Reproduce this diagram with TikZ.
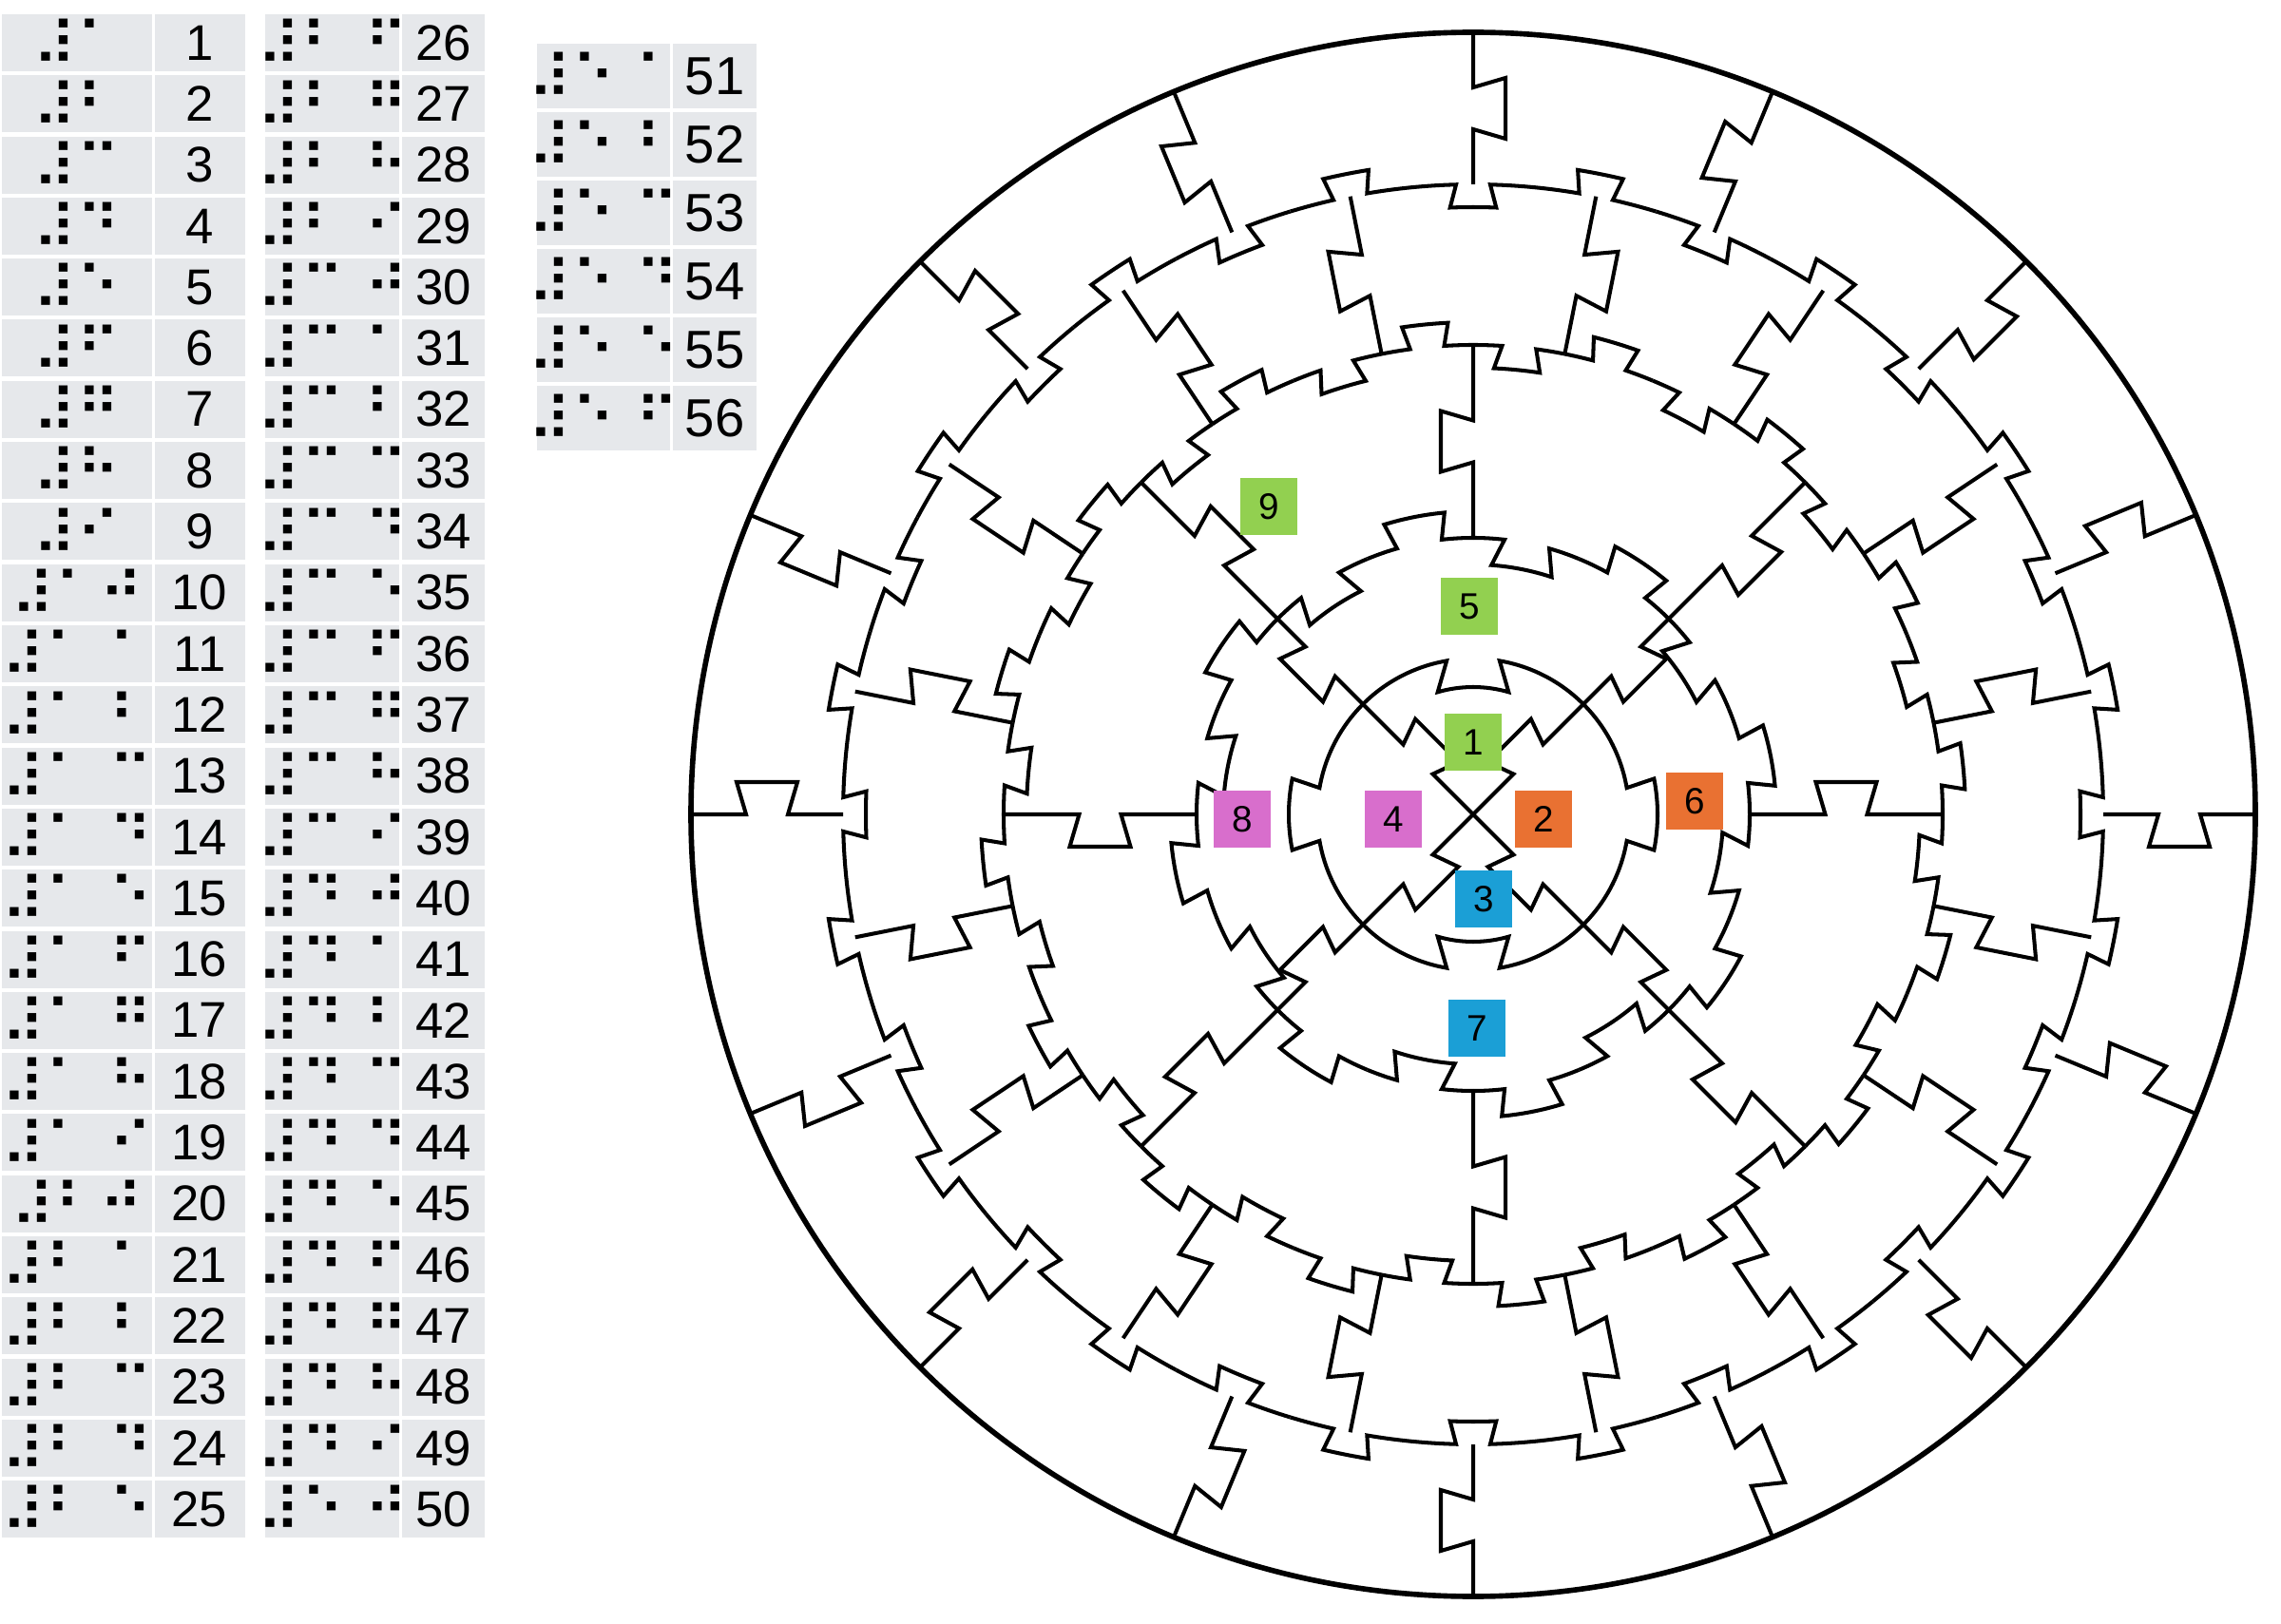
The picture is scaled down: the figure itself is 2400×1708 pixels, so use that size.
\documentclass[tikz,border=0pt]{standalone}
\usepackage{fontspec}
\setmainfont{Liberation Sans}
\newfontfamily\brl{DejaVu Sans}
\definecolor{cellg}{HTML}{E6E8EB}
\definecolor{lgreen}{HTML}{92D050}
\definecolor{lorange}{HTML}{E97132}
\definecolor{lblue}{HTML}{1B9FD6}
\definecolor{lmag}{HTML}{D86ECC}
\newcommand\ringarc[5]{%
 \foreach \i in {1,...,#2}{
  \pgfmathsetmacro\ta{#3+(\i-1)*360/#2}
  \pgfmathsetmacro\tb{#3+\i*360/#2}
  \pgfmathsetmacro\tm{(\ta+\tb)/2}
  \pgfmathsetmacro\dd{#5*ifthenelse(mod(\i,2)==1,1,-1)}
  \pgfmathsetmacro\rr{#1+\dd}
  \pgfmathsetmacro\tal{\tm-#4/#1*57.2958}
  \pgfmathsetmacro\tar{\tm+#4/#1*57.2958}
  \pgfmathsetmacro\tbl{\tm-1.35*#4/\rr*57.2958}
  \pgfmathsetmacro\tbr{\tm+1.35*#4/\rr*57.2958}
  \draw[puz,shift={(C)}] (\ta:#1) arc[start angle=\ta,end angle=\tal,radius=#1] -- (\tbl:\rr) arc[start angle=\tbl,end angle=\tbr,radius=\rr] -- (\tar:#1) arc[start angle=\tar,end angle=\tb,radius=#1];
 }}
\newcommand\radial[4]{%
  \pgfmathsetmacro\mm{(#2+#3)/2}
  \pgfmathsetmacro\pa{\mm-22}\pgfmathsetmacro\pb{\mm+22}
  \pgfmathsetmacro\qa{\mm-32}\pgfmathsetmacro\qb{\mm+32}
  \draw[puz,shift={(C)},rotate=#1] (#2,0) -- (\pa,0) -- (\qa,#4) -- (\qb,#4) -- (\pb,0) -- (#3,0);}
\begin{document}
\begin{tikzpicture}[x=0.01cm,y=0.01cm,
  puz/.style={line width=1.15pt,line join=miter},
  lab/.style={minimum size=0.6cm,inner sep=0,font=\fontsize{11}{11}\selectfont},
  num/.style={font=\fontsize{15}{15}\selectfont},
  bra/.style={font=\brl\fontsize{18}{18}\selectfont}]
\useasboundingbox (0,0) rectangle (2400,1708);
\coordinate (C) at (1550,851);
% tables
\foreach \n/\b [count=\k from 0] in {1/⠼⠁,2/⠼⠃,3/⠼⠉,4/⠼⠙,5/⠼⠑,6/⠼⠋,7/⠼⠛,8/⠼⠓,9/⠼⠊,10/⠼⠁⠚,11/⠼⠁ ⠁,12/⠼⠁ ⠃,13/⠼⠁ ⠉,14/⠼⠁ ⠙,15/⠼⠁ ⠑,16/⠼⠁ ⠋,17/⠼⠁ ⠛,18/⠼⠁ ⠓,19/⠼⠁ ⠊,20/⠼⠃⠚,21/⠼⠃ ⠁,22/⠼⠃ ⠃,23/⠼⠃ ⠉,24/⠼⠃ ⠙,25/⠼⠃ ⠑}{
  \pgfmathsetmacro\yt{1708-15-64.3*\k}
  \fill[cellg] (2,\yt) rectangle (160,\yt-60);
  \fill[cellg] (163,\yt) rectangle (258,\yt-60);
  \node[bra] (b\n) at (81,\yt-30) {\b};
  \node[num] (n\n) at (210,\yt-30) {\n};
}
\foreach \n/\b [count=\k from 0] in {26/⠼⠃ ⠋,27/⠼⠃ ⠛,28/⠼⠃ ⠓,29/⠼⠃ ⠊,30/⠼⠉ ⠚,31/⠼⠉ ⠁,32/⠼⠉ ⠃,33/⠼⠉ ⠉,34/⠼⠉ ⠙,35/⠼⠉ ⠑,36/⠼⠉ ⠋,37/⠼⠉ ⠛,38/⠼⠉ ⠓,39/⠼⠉ ⠊,40/⠼⠙ ⠚,41/⠼⠙ ⠁,42/⠼⠙ ⠃,43/⠼⠙ ⠉,44/⠼⠙ ⠙,45/⠼⠙ ⠑,46/⠼⠙ ⠋,47/⠼⠙ ⠛,48/⠼⠙ ⠓,49/⠼⠙ ⠊,50/⠼⠑ ⠚}{
  \pgfmathsetmacro\yt{1708-15-64.3*\k}
  \fill[cellg] (279,\yt) rectangle (420,\yt-60);
  \fill[cellg] (423,\yt) rectangle (510,\yt-60);
  \node[bra] (b\n) at (350,\yt-30) {\b};
  \node[num] (n\n) at (467,\yt-30) {\n};
}
\foreach \n/\b [count=\k from 0] in {51/⠼⠑ ⠁,52/⠼⠑ ⠃,53/⠼⠑ ⠉,54/⠼⠑ ⠙,55/⠼⠑ ⠑,56/⠼⠑ ⠋}{
  \pgfmathsetmacro\yt{1708-46-72*\k}
  \fill[cellg] (565,\yt) rectangle (705,\yt-68);
  \fill[cellg] (708,\yt) rectangle (796,\yt-68);
  \node[bra] (b\n) at (635,\yt-34) {\b};
  \node[num,font=\fontsize{16}{16}\selectfont] (n\n) at (752,\yt-34) {\n};
}
% puzzle
\draw[line width=1.6pt] (C) circle[radius=823];
\ringarc{164}{4}{-45}{28}{30}
\ringarc{291}{16}{0}{24}{28}
\ringarc{494}{32}{0}{18}{24}
\ringarc{663}{32}{5.625}{18}{24}
\foreach \a [count=\j] in {45,135,225,315}{
  \pgfmathsetmacro\s{ifthenelse(mod(\j,2)==1,1,-1)}
  \radial{\a}{0}{164}{28*\s}
  \radial{\a}{164}{291}{-28*\s}}
\foreach \a [count=\j] in {0,45,...,315}{
  \pgfmathsetmacro\s{ifthenelse(mod(\j,2)==1,1,-1)}
  \radial{\a}{291}{494}{34*\s}}
\foreach \a [count=\j] in {11.25,33.75,...,350}{
  \pgfmathsetmacro\s{ifthenelse(mod(\j,2)==1,1,-1)}
  \radial{\a}{494}{663}{34*\s}}
\foreach \a [count=\j] in {0,22.5,...,340}{
  \pgfmathsetmacro\s{ifthenelse(mod(\j,2)==1,-1,1)}
  \radial{\a}{663}{823}{34*\s}}
% labels
\node[lab,fill=lgreen] (p1) at (1550,927) {1};
\node[lab,fill=lorange] (p2) at (1624,846) {2};
\node[lab,fill=lblue] (p3) at (1561,762) {3};
\node[lab,fill=lmag] (p4) at (1466,846) {4};
\node[lab,fill=lgreen] (p5) at (1546,1070) {5};
\node[lab,fill=lorange] (p6) at (1783,865) {6};
\node[lab,fill=lblue] (p7) at (1554,626) {7};
\node[lab,fill=lmag] (p8) at (1307,846) {8};
\node[lab,fill=lgreen] (p9) at (1335,1175) {9};
\end{tikzpicture}
\end{document}
